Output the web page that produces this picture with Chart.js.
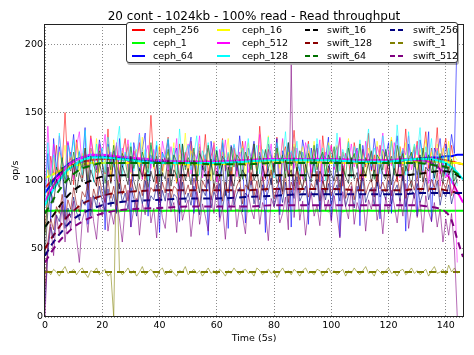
<!DOCTYPE html>
<html><head><meta charset="utf-8">
<script src="https://cdn.jsdelivr.net/npm/chart.js@4.4.1/dist/chart.umd.min.js"></script>
<style>
html,body{margin:0;padding:0;background:#fff;overflow:hidden;}
#wrap{position:relative;width:474px;height:355px;font-family:"DejaVu Sans",sans-serif;color:#000;}
canvas{position:absolute;left:0;top:0;}
#title{position:absolute;left:45px;width:418px;top:10px;height:12px;line-height:12px;font-size:12px;text-align:center;white-space:nowrap;}
#legend{position:absolute;left:126px;top:22px;width:330px;height:39px;background:#fff;border:1px solid #333;border-radius:3px;box-shadow:1px 2px 0 rgba(0,0,0,0.3);}
.li{position:absolute;height:13px;line-height:13px;font-size:9.5px;white-space:nowrap;}
.ls{position:absolute;}
</style></head>
<body>
<div id="wrap">
<canvas id="c" width="474" height="355"></canvas>
<div id="title">20 cont - 1024kb - 100% read - Read throughput</div>
<div id="legend"></div>
</div>
<script>
// ---- data ----
const timeSteps = Array.from({length:145},(_,i)=>i);
const fitX = [0,2,4,6,8,10,13,16,20,25,30,40,50,60,70,80,90,100,110,120,125,130,134,137,140,142,144,146];
const xTicks = [0,20,40,60,80,100,120,140];
const yTicks = [0,50,100,150,200];

const ceph256Raw = [62,95,118,104,126,99,112,150,108,121,
97,130,115,102,124,109,133,118,96,127,
112,105,138,99,117,126,103,119,131,108,
95,122,114,128,101,117,109,148,112,98,
125,107,119,132,104,115,98,127,111,121,
103,129,116,94,122,110,134,105,118,126,
99,113,131,107,120,96,124,115,102,129,
111,118,97,127,106,140,114,101,123,117,
108,132,99,119,125,104,116,137,110,97,
121,113,129,102,118,124,99,133,112,106,
126,109,117,131,96,120,114,103,128,115,
101,123,110,135,107,119,98,126,113,121,
104,130,116,99,125,111,138,107,120,114,
129,102,118,136,109,124,113,139,105,121,
131,108,126,112,98];
const ceph1Raw = [78,78,77,78,79,78,78,77,78,78,
78,79,78,78,77,78,78,79,78,78,
77,78,78,78,79,78,77,78,78,78,
78,78,79,78,78,77,78,78,78,79,
78,77,78,78,78,79,78,78,77,78,
78,78,78,79,78,78,77,78,78,78,
79,78,78,77,78,78,78,79,78,78,
78,77,78,78,79,78,78,78,77,78,
78,78,79,78,78,77,78,78,78,79,
78,78,77,78,78,79,78,78,78,77,
78,79,78,78,77,78,78,78,79,78,
77,78,78,79,78,78,78,77,78,78,
78,78,77,78,79,78,78,78,78,77,
78,79,78,78,78,77,78,78,79,78,
78,77,78,78,78];
const ceph64Raw = [88,120,70,131,108,125,112,72,128,115,
134,106,121,112,139,68,124,117,108,130,
119,64,127,113,122,78,131,110,118,125,
66,128,116,107,123,135,74,119,111,126,
62,121,114,130,105,118,124,70,127,110,
120,132,76,116,125,108,119,60,129,113,
122,73,128,111,65,126,118,107,133,114,
69,124,117,129,105,121,112,62,127,119,
110,131,75,122,116,128,66,125,113,107,
130,118,68,124,111,127,77,120,116,132,
71,119,125,59,121,113,129,106,117,124,
67,126,112,120,108,131,115,72,123,118,
128,76,119,133,110,122,63,127,116,125,
74,130,118,112,136,70,124,119,131,109,
127,115,134,120,215];
const ceph16Raw = [100,108,96,117,105,121,110,126,103,118,
112,128,107,120,115,99,124,111,131,106,
119,113,125,102,130,116,108,122,114,127,
105,118,123,110,132,101,117,124,109,120,
126,104,115,121,111,128,99,119,113,135,
107,122,116,103,127,112,118,124,100,129,
114,108,121,117,131,105,123,110,119,125,
102,128,113,120,107,126,116,111,133,104,
118,124,109,130,115,121,103,127,112,119,
125,106,122,114,129,110,117,123,101,128,
113,119,126,108,121,115,131,104,120,111,
127,116,102,124,118,109,129,113,122,106,
120,132,111,117,125,103,128,114,119,126,
108,123,116,130,112,121,105,127,117,124,
113,129,110,118,115];
const ceph512Raw = [92,140,104,127,98,133,115,107,129,118,
101,125,136,110,122,97,131,116,108,127,
119,134,103,121,112,128,99,124,117,130,
106,122,113,135,101,119,126,109,123,115,
100,129,118,107,125,112,131,96,120,114,
127,105,121,116,133,102,118,124,110,128,
99,123,115,130,108,119,126,103,121,113,
129,106,117,125,111,134,100,122,116,127,
104,120,112,131,107,118,121,109,124,115,
101,128,119,106,123,114,130,98,121,117,
126,108,119,132,103,120,114,127,110,122,
116,100,129,113,121,107,125,118,135,104,
122,111,128,116,102,124,119,133,108,117,
126,112,105,121,98,118,110,124,96,113,
102,108,91,97,40];
const ceph128Raw = [80,128,96,119,108,135,112,101,126,117,
130,109,122,104,137,115,120,99,127,113,
124,106,132,118,110,125,140,103,121,116,
128,107,119,134,111,123,100,126,115,129,
105,120,117,131,109,124,102,138,114,121,
126,108,119,133,104,122,116,128,110,119,
125,101,130,113,121,107,127,118,103,124,
114,131,109,120,126,105,123,117,132,111,
102,128,119,114,136,108,122,116,129,104,
121,113,127,118,106,131,115,124,100,126,
119,110,135,107,123,116,128,102,125,113,
130,109,121,138,111,124,117,105,133,120,
114,129,108,141,118,123,104,136,112,127,
119,139,107,125,116,131,101,122,113,118,
104,124,98,110,96];
const swift16Raw = [45,78,92,84,101,95,110,88,104,97,
112,91,106,99,115,93,108,101,96,113,
104,89,110,98,116,102,94,111,105,97,
118,100,92,109,103,114,95,107,99,112,
90,106,101,117,96,108,104,93,113,100,
109,97,115,102,91,111,105,98,116,94,
107,103,112,89,110,101,96,114,99,108,
104,93,117,100,106,95,111,102,109,97,
113,98,105,92,115,103,108,96,110,101,
94,112,104,99,116,97,107,102,90,111,
105,100,114,95,109,103,98,117,101,106,
93,110,104,113,99,108,96,112,105,101,
115,97,109,103,118,100,111,106,95,114,
104,119,99,110,107,116,102,112,108,98,
113,104,109,96,101];
const swift128Raw = [20,55,72,64,81,76,90,71,86,79,
95,83,77,92,88,99,80,94,86,102,
91,84,100,87,96,82,104,90,97,85,
101,93,80,98,89,106,86,95,92,103,
84,99,91,108,87,96,94,82,105,90,
97,88,102,93,81,100,95,107,86,98,
92,104,85,99,91,110,88,96,101,83,
97,94,106,89,100,86,103,92,98,108,
87,95,101,90,105,84,99,93,109,91,
96,102,88,98,94,107,85,100,92,104,
89,97,103,91,111,87,95,99,86,102,
93,108,90,97,101,88,105,94,99,92,
106,89,98,103,91,110,87,96,100,93,
104,90,97,108,92,101,95,106,88,99,
94,103,89,97,92];
const swift64Raw = [60,88,101,94,110,104,117,99,112,107,
121,103,115,109,124,100,118,111,106,122,
113,98,119,108,126,111,104,120,115,102,
125,109,117,101,121,113,106,128,110,118,
99,116,112,123,105,119,114,102,127,108,
117,111,124,100,120,115,107,126,112,104,
122,109,118,113,103,125,110,119,116,101,
121,114,108,127,105,118,112,123,109,115,
106,124,113,119,102,128,111,117,107,122,
115,100,120,112,126,108,116,121,104,119,
113,125,106,118,111,103,124,114,120,109,
127,105,117,112,122,101,119,115,108,123,
111,118,104,126,113,120,107,116,121,110,
117,102,124,112,119,106,115,109,120,103,
113,107,116,100,105];
const swift256Raw = [10,48,66,58,75,70,83,65,80,73,
88,77,71,86,82,93,74,89,80,96,
85,78,94,81,90,76,98,84,91,79,
95,87,74,92,83,100,80,89,86,97,
78,93,85,102,81,90,88,76,99,84,
91,82,96,87,75,94,89,101,80,92,
86,98,79,93,85,104,82,90,95,77,
91,88,100,83,94,80,97,86,92,102,
81,89,95,84,99,78,93,87,103,85,
90,96,82,92,88,101,79,94,86,98,
83,91,97,85,105,81,89,93,80,96,
87,102,84,91,95,82,99,88,93,86,
100,83,92,97,85,104,81,90,94,87,
98,84,91,102,86,95,89,100,82,93,
88,97,83,92,90];
const swift1Raw = [36,34,31,35,33,30,34,37,32,33,
35,31,34,36,32,29,34,33,36,31,
33,35,30,32,0,118,34,31,33,36,
32,34,30,33,37,31,33,35,32,29,
34,36,31,33,35,32,30,34,33,37,
31,33,35,32,34,30,33,36,32,34,
31,35,33,30,34,32,36,33,31,34,
35,32,33,30,36,34,31,33,35,32,
34,29,33,36,32,34,31,35,33,30,
34,36,32,33,31,35,34,30,33,36,
32,34,31,33,35,30,34,32,36,33,
31,34,37,32,33,30,35,33,31,34,
36,32,33,30,34,35,31,33,36,32,
34,31,33,35,30,34,37,32,33,35,
31,38,33,36,32];
const swift512Raw = [0,52,68,45,74,60,82,55,76,64,
85,58,40,71,79,62,88,70,57,84,
74,90,63,78,68,86,72,55,81,93,
66,79,87,60,83,75,95,69,80,58,
88,73,65,91,77,84,62,96,71,80,
86,59,78,92,68,83,74,63,89,76,
97,70,81,57,85,78,93,66,82,74,
61,90,79,72,94,68,84,77,56,87,
81,95,69,76,88,64,185,73,99,71,
85,60,79,91,74,82,67,94,78,86,
70,89,75,58,92,81,72,96,68,84,
77,90,63,86,79,95,71,83,61,88,
76,93,82,69,87,74,98,65,80,91,
73,85,62,89,77,70,84,66,79,55,
72,60,76,50,0];

const ceph256Fit = [95,99,103,107,110,112,114,115,116,116,115,114,114,114,115,116,116,116,115,115,115,116,116,116,115,114,113,112];
const ceph1Fit = [78,78,78,78,78,78,78,78,78,78,78,78,78,78,78,78,78,78,78,78,78,78,78,78,78,78,78,78];
const ceph64Fit = [91,97,103,108,112,115,117,118,118,117,116,114,113,113,114,116,116,115,114,114,115,116,117,117,118,118,119,119];
const ceph16Fit = [102,104,106,108,110,111,112,113,113,113,113,113,112,112,113,114,114,113,113,113,113,114,114,114,114,113,113,112];
const ceph512Fit = [85,93,100,106,111,114,117,119,119,118,117,115,114,114,115,116,116,116,115,115,116,115,114,110,105,100,92,84];
const ceph128Fit = [82,90,97,103,108,111,115,117,117,116,115,113,113,113,114,115,115,115,114,114,115,116,116,115,113,110,106,101];
const swift16Fit = [66,72,78,84,89,93,97,100,103,104,104,104,104,104,104,104,104,104,104,104,104,105,106,107,107,106,104,101];
const swift128Fit = [50,57,63,69,74,78,83,86,89,91,92,93,93,93,93,94,94,94,93,93,93,94,94,94,93,92,91,89];
const swift64Fit = [76,83,90,96,101,105,109,111,113,113,113,113,113,112,112,113,113,113,113,113,113,113,112,111,110,108,105,102];
const swift256Fit = [45,52,58,63,68,72,76,79,82,84,85,86,87,87,88,89,90,90,90,90,90,91,91,91,91,91,91,91];
const swift1Fit = [33,33,33,33,33,33,33,33,33,33,33,33,33,33,33,33,33,33,33,33,33,33,33,33,33,33,33,33];
const swift512Fit = [40,47,53,58,62,66,70,73,76,78,79,80,81,81,81,82,82,82,82,82,82,82,81,80,77,71,57,44];

const seriesNames = ['ceph_256','ceph_1','ceph_64','ceph_16','ceph_512','ceph_128','swift_16','swift_128','swift_64','swift_256','swift_1','swift_512'];
const seriesColors = ['#ff0000','#00ff00','#0000ff','#ffff00','#ff00ff','#00ffff','#000000','#8b0000','#007000','#000080','#808000','#800080'];
const seriesDashed = [false,false,false,false,false,false,true,true,true,true,true,true];
const rawValues = [ceph256Raw,ceph1Raw,ceph64Raw,ceph16Raw,ceph512Raw,ceph128Raw,swift16Raw,swift128Raw,swift64Raw,swift256Raw,swift1Raw,swift512Raw];
const fitValues = [ceph256Fit,ceph1Fit,ceph64Fit,ceph16Fit,ceph512Fit,ceph128Fit,swift16Fit,swift128Fit,swift64Fit,swift256Fit,swift1Fit,swift512Fit];

// ---- chart ----
function rgba(hex,a){const n=parseInt(hex.slice(1),16);return `rgba(${(n>>16)&255},${(n>>8)&255},${n&255},${a})`;}
const datasets=[];
seriesNames.forEach((name,i)=>{
  datasets.push({label:name+' (raw)',data:rawValues[i].map((v,k)=>({x:timeSteps[k],y:v})),
    borderColor:rgba(seriesColors[i],0.58),borderWidth:1,tension:0,pointRadius:0,fill:false,order:100-2*i});
  datasets.push({label:name,data:fitValues[i].map((v,k)=>({x:fitX[k],y:v})),
    borderColor:seriesColors[i],borderWidth:2,borderDash:seriesDashed[i]?[7,5]:[],
    cubicInterpolationMode:'monotone',pointRadius:0,fill:false,order:99-2*i});
});
const frame={id:'frame',afterDatasetsDraw(c){const a=c.chartArea,ctx=c.ctx;ctx.save();ctx.strokeStyle='#222';ctx.lineWidth=1;
  ctx.strokeRect(Math.round(a.left)-0.5,Math.round(a.top)+0.5,Math.round(a.right-a.left)+1,Math.round(a.bottom-a.top)-1);ctx.restore();}};
const tickFont={family:'DejaVu Sans',size:9.5};
new Chart(document.getElementById('c'),{
  type:'line',
  data:{datasets},
  options:{
    responsive:false,animation:false,events:[],
    layout:{padding:{top:24,right:11,left:0,bottom:0}},
    plugins:{legend:{display:false},title:{display:false},tooltip:{enabled:false}},
    scales:{
      x:{type:'linear',min:0,max:146,
        afterFit:s=>{s.height=38;},
        afterBuildTicks:s=>{s.ticks=xTicks.map(v=>({value:v}));},
        ticks:{color:'#000',font:tickFont,padding:3,maxRotation:0,autoSkip:false},
        grid:{color:'rgba(0,0,0,0.45)',lineWidth:1,drawTicks:false},
        border:{display:false,dash:[1,2]},
        title:{display:true,text:'Time (5s)',color:'#000',font:tickFont,padding:{top:0,bottom:11}}},
      y:{min:0,max:215,
        afterFit:s=>{s.width=45;},
        afterBuildTicks:s=>{s.ticks=yTicks.map(v=>({value:v}));},
        ticks:{color:'#000',font:tickFont,padding:2},
        grid:{color:'rgba(0,0,0,0.45)',lineWidth:1,drawTicks:false},
        border:{display:false,dash:[1,2]},
        title:{display:true,text:'op/s',color:'#000',font:tickFont,padding:{top:10,bottom:0}}}
    }
  },
  plugins:[frame]
});

// ---- legend (column-major, 3 rows x 4 cols) ----
const leg=document.getElementById('legend');
const lineLeft=[132,217,305,390], textLeft=[153,242,327,413], rowY=[30,43,56.3];
const ox=127, oy=23;
seriesNames.forEach((name,i)=>{
  const col=Math.floor(i/3), row=i%3;
  const svg=document.createElementNS('http://www.w3.org/2000/svg','svg');
  svg.setAttribute('width','14');svg.setAttribute('height','4');svg.setAttribute('class','ls');
  svg.style.left=(lineLeft[col]-ox)+'px';svg.style.top=(rowY[row]-2-oy)+'px';
  const ln=document.createElementNS('http://www.w3.org/2000/svg','line');
  ln.setAttribute('x1','0');ln.setAttribute('x2','13');ln.setAttribute('y1','2');ln.setAttribute('y2','2');
  ln.setAttribute('stroke',seriesColors[i]);ln.setAttribute('stroke-width','2');
  if(seriesDashed[i]) ln.setAttribute('stroke-dasharray','5,3');
  svg.appendChild(ln);leg.appendChild(svg);
  const t=document.createElement('div');t.className='li';t.textContent=name;
  t.style.left=(textLeft[col]-ox)+'px';t.style.top=(rowY[row]-7.3-oy)+'px';
  leg.appendChild(t);
});
</script>
</body></html>
